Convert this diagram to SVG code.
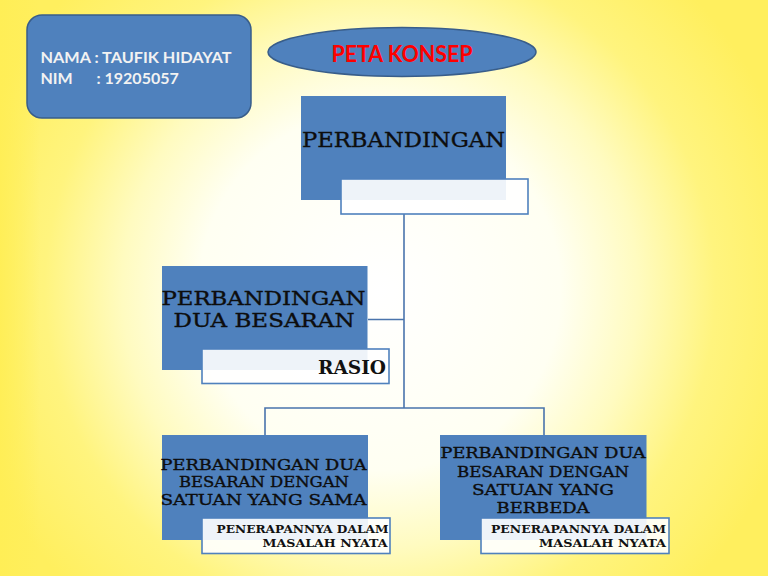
<svg xmlns="http://www.w3.org/2000/svg" width="768" height="576" viewBox="0 0 768 576">
<defs>
<radialGradient id="bg" cx="380" cy="290" r="430" gradientUnits="userSpaceOnUse">
<stop offset="0" stop-color="#FFFFFF"/>
<stop offset="0.42" stop-color="#FFFFF2"/>
<stop offset="0.6" stop-color="#FFFBC0"/>
<stop offset="0.78" stop-color="#FFF47E"/>
<stop offset="1" stop-color="#FFEF5E"/>
</radialGradient>
<linearGradient id="lft" x1="0" y1="0" x2="1" y2="0">
<stop offset="0" stop-color="#FFEE55" stop-opacity="0.9"/>
<stop offset="1" stop-color="#FFEE55" stop-opacity="0"/>
</linearGradient>
<style>
.blue{fill:#4F81BD;stroke:none}
.sub{fill:#FFFFFF;fill-opacity:0.9;stroke:#4F81BD;stroke-width:1.6}
.conn{fill:none;stroke:#4A74AC;stroke-width:1.6}
.main{font-family:"DejaVu Serif","Liberation Serif",serif;fill:#0D0D0D;stroke:#0D0D0D;stroke-width:0.35;text-anchor:middle}
.deco{font-family:"DejaVu Serif","Liberation Serif",serif;font-weight:bold;fill:#111111;text-anchor:end}
.info{font-family:Lato,"Liberation Sans",sans-serif;font-weight:bold;fill:#F2F2F2;font-size:16px}
</style>
</defs>
<rect x="0" y="0" width="768" height="576" fill="url(#bg)"/>
<rect x="0" y="0" width="40" height="576" fill="url(#lft)"/>

<g id="info-node">
<rect x="27" y="15" width="224" height="103" rx="15" fill="#4F81BD" stroke="#385D8A" stroke-width="1.5"/>
<text class="info" x="40.5" y="63.3" textLength="191" lengthAdjust="spacingAndGlyphs">NAMA : TAUFIK HIDAYAT</text>
<text class="info" x="40.5" y="83.5">NIM<tspan x="96.5">: 19205057</tspan></text>
</g>

<g id="title-node">
<ellipse cx="402" cy="52" rx="134" ry="24.5" fill="#4F81BD" stroke="#385D8A" stroke-width="1.5"/>
<text x="402" y="61.5" text-anchor="middle" font-family="Lato,Liberation Sans,sans-serif" font-weight="bold" font-size="22" fill="#FF0000" textLength="141" lengthAdjust="spacingAndGlyphs">PETA KONSEP</text>
</g>

<g id="connectors">
<path class="conn" d="M404 214 V408"/>
<path class="conn" d="M368 319.5 H404"/>
<path class="conn" d="M265 435 V408 H544 V435"/>
</g>

<g id="node-perbandingan">
<rect class="blue" x="301" y="96" width="205" height="104"/>
<text class="main" x="403.5" y="146.7" font-size="21" textLength="203" lengthAdjust="spacingAndGlyphs">PERBANDINGAN</text>
<rect class="sub" x="341" y="179" width="187" height="35"/>
</g>

<g id="node-dua-besaran">
<rect class="blue" x="162" y="266" width="205.5" height="104"/>
<text class="main" x="263.5" y="305" font-size="18.5" textLength="204" lengthAdjust="spacingAndGlyphs">PERBANDINGAN</text>
<text class="main" x="264" y="327" font-size="18.5" textLength="181" lengthAdjust="spacingAndGlyphs">DUA BESARAN</text>
<rect class="sub" x="202" y="349" width="187" height="34.5"/>
<text class="deco" x="386" y="374" font-size="18" textLength="68" lengthAdjust="spacingAndGlyphs">RASIO</text>
</g>

<g id="node-satuan-sama">
<rect class="blue" x="162" y="435" width="206" height="105"/>
<text class="main" x="263.5" y="470" font-size="14.5" textLength="206" lengthAdjust="spacingAndGlyphs">PERBANDINGAN DUA</text>
<text class="main" x="264" y="487" font-size="14.5" textLength="170" lengthAdjust="spacingAndGlyphs">BESARAN DENGAN</text>
<text class="main" x="263.5" y="504.5" font-size="14.5" textLength="206" lengthAdjust="spacingAndGlyphs">SATUAN YANG SAMA</text>
<rect class="sub" x="202" y="518" width="188" height="35.5"/>
<text class="deco" x="388.5" y="533.3" font-size="11.5" textLength="172" lengthAdjust="spacingAndGlyphs">PENERAPANNYA DALAM</text>
<text class="deco" x="387.5" y="547" font-size="11.5" textLength="125" lengthAdjust="spacingAndGlyphs">MASALAH NYATA</text>
</g>

<g id="node-satuan-berbeda">
<rect class="blue" x="440" y="435" width="206.5" height="105"/>
<text class="main" x="543" y="458.3" font-size="14.5" textLength="205" lengthAdjust="spacingAndGlyphs">PERBANDINGAN DUA</text>
<text class="main" x="543" y="476.6" font-size="14.5" textLength="172" lengthAdjust="spacingAndGlyphs">BESARAN DENGAN</text>
<text class="main" x="543" y="495" font-size="14.5" textLength="142" lengthAdjust="spacingAndGlyphs">SATUAN YANG</text>
<text class="main" x="543" y="513" font-size="14.5" textLength="93" lengthAdjust="spacingAndGlyphs">BERBEDA</text>
<rect class="sub" x="481" y="518" width="188" height="35.5"/>
<text class="deco" x="666" y="533.3" font-size="11.5" textLength="175" lengthAdjust="spacingAndGlyphs">PENERAPANNYA  DALAM</text>
<text class="deco" x="666" y="547" font-size="11.5" textLength="127" lengthAdjust="spacingAndGlyphs">MASALAH NYATA</text>
</g>
</svg>
